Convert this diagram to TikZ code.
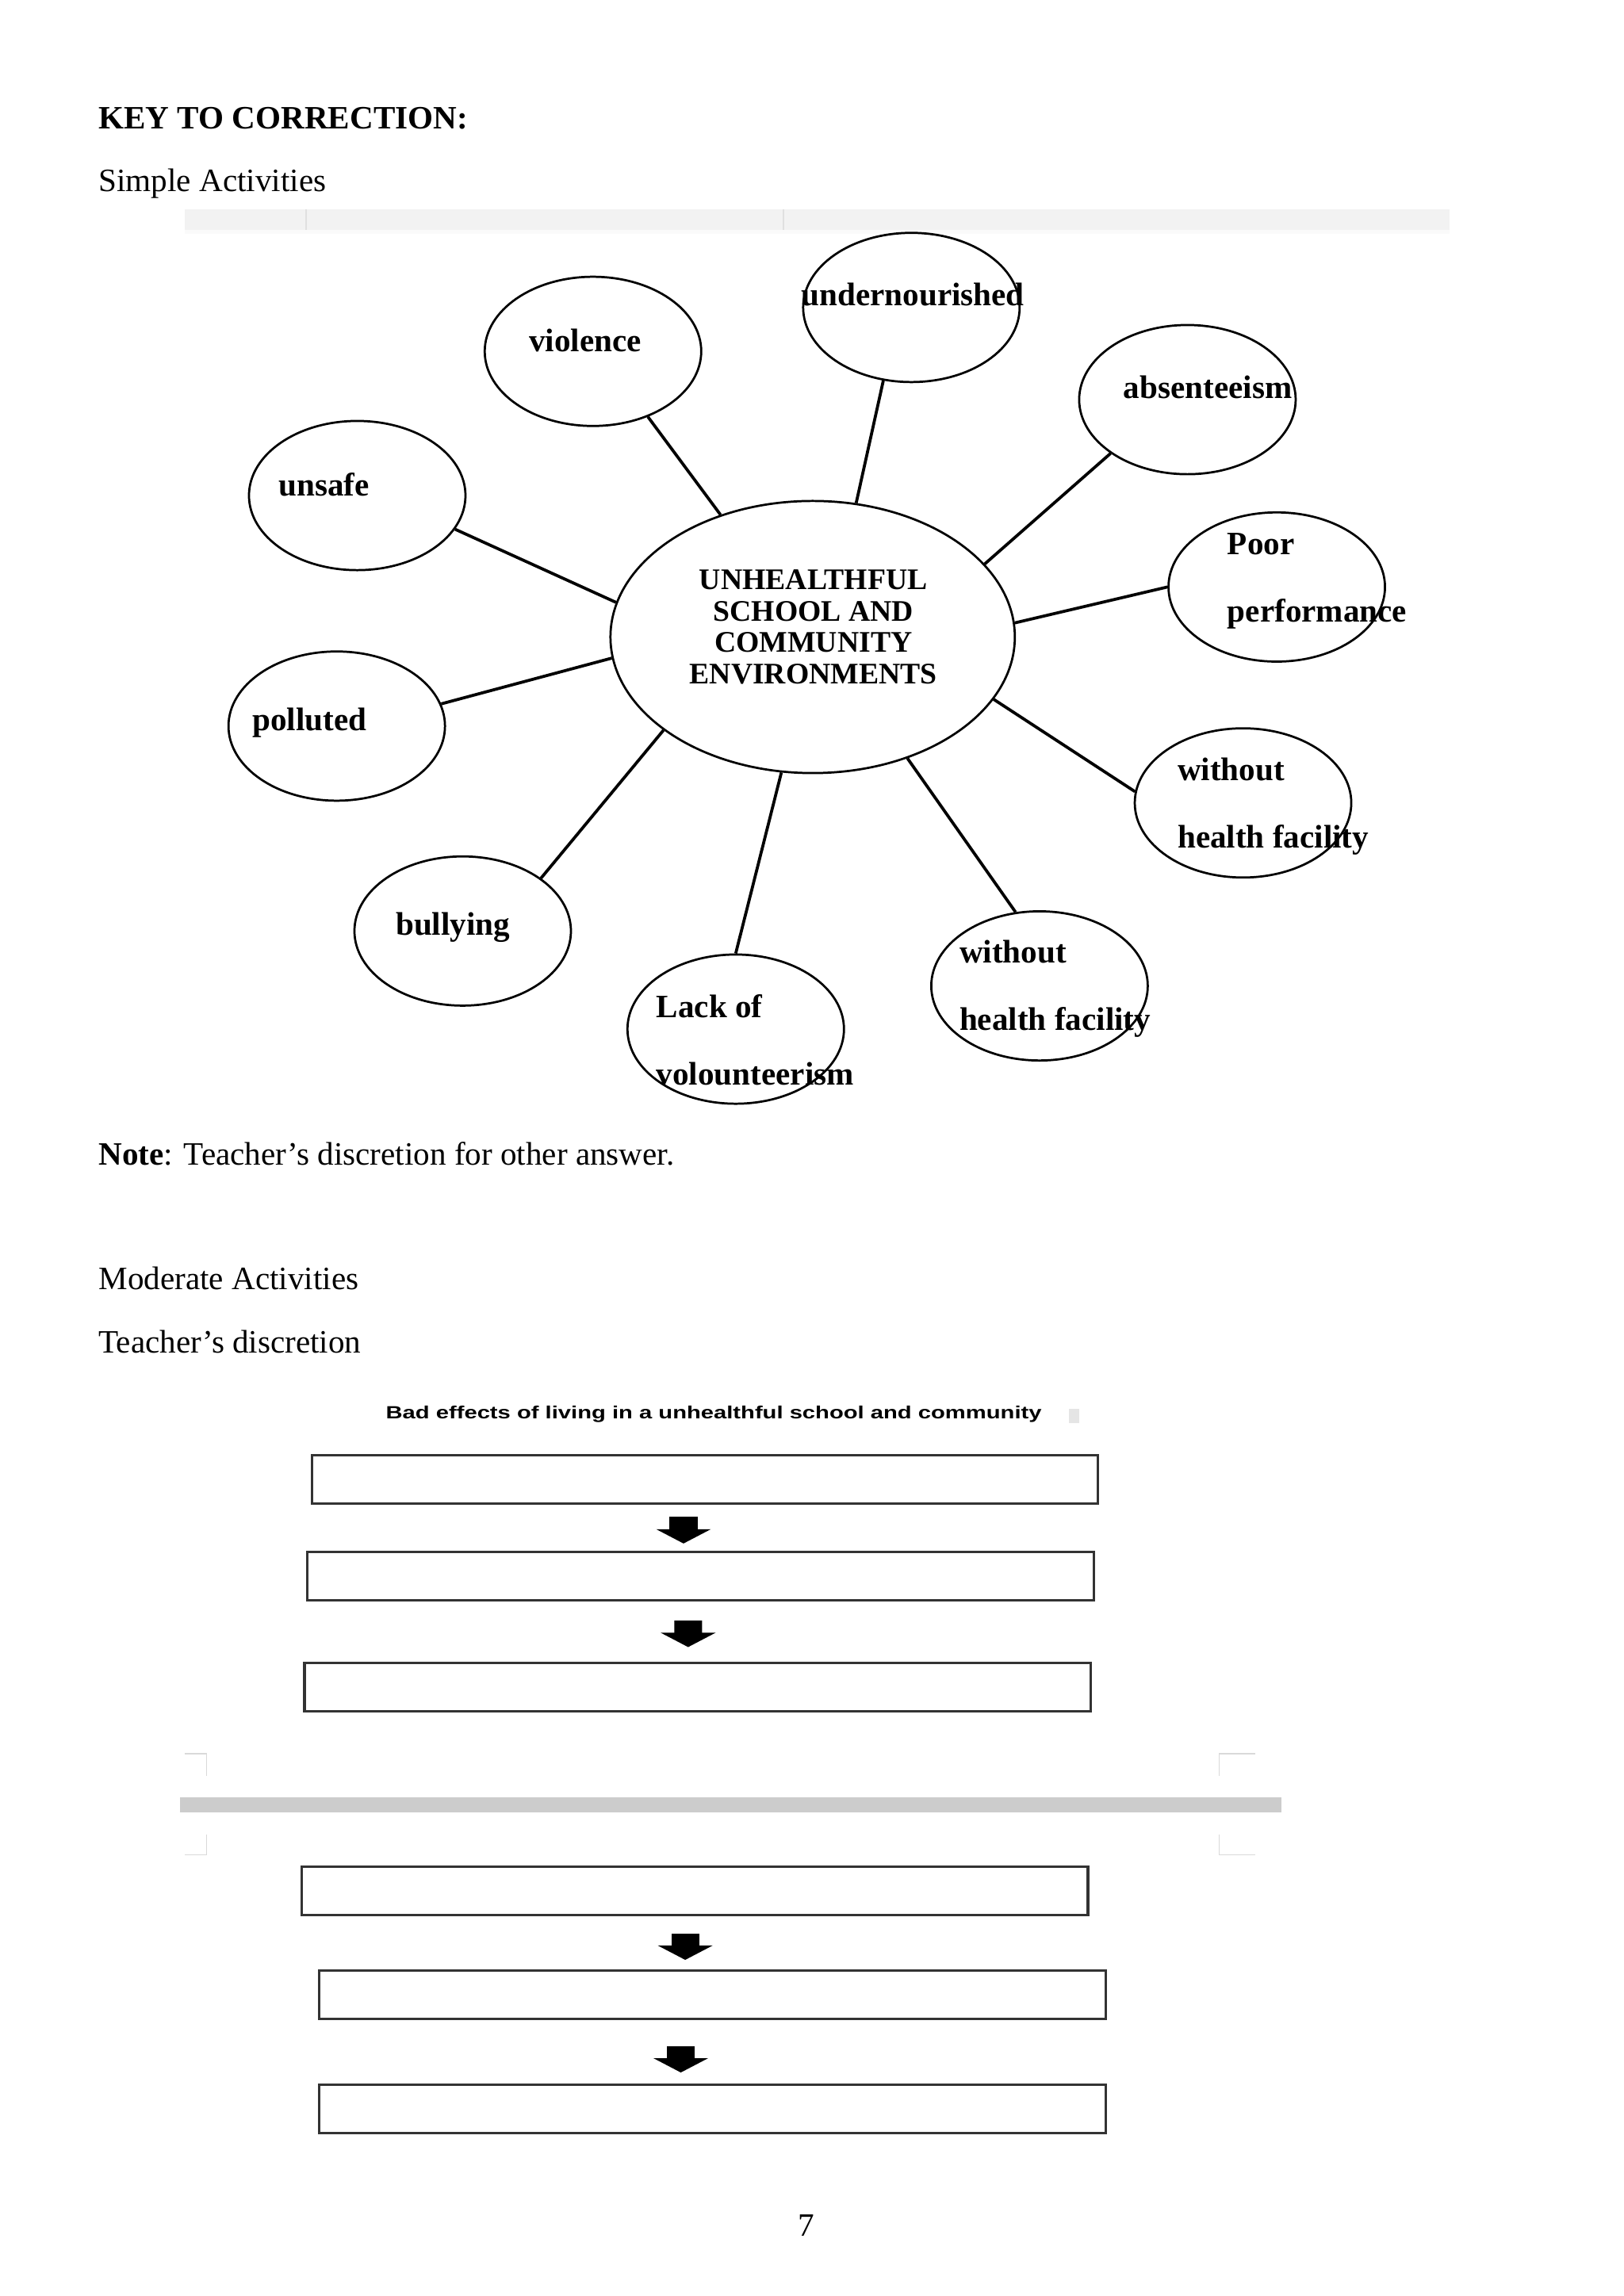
\documentclass[tikz,border=0pt]{standalone}
\usepackage{fontspec}
\setmainfont{Liberation Serif}
\setsansfont{Liberation Sans}
\usepackage{graphicx}
\usetikzlibrary{shapes.geometric,arrows.meta}

\begin{document}
\begin{tikzpicture}[
    bubble/.style={ellipse,draw,line width=0.8pt,minimum width=2.8cm,minimum height=1.93cm,inner sep=0pt},
    hubshape/.style={bubble,minimum width=5.23cm,minimum height=3.52cm},
    lbl/.style={anchor=base west,inner sep=0pt,font=\bfseries\fontsize{12}{14}\selectfont},
    body/.style={anchor=base west,inner sep=0pt,font=\fontsize{12}{14}\selectfont},
    spoke/.style={line width=1.1pt},
    blank/.style={draw=black!80,line width=0.9pt,minimum width=10.17cm,minimum height=0.625cm,inner sep=0pt},
    down/.style={line width=0.36cm,-{Triangle[width=0.7cm,length=0.185cm]}},
    cropline/.style={draw=black!15,line width=0.4pt}
  ]
    \fill[white] (0,0) rectangle (21,-29.7);
    \useasboundingbox (0,0) rectangle (21,-29.7);
    %% Page text
    \node[body,font=\bfseries\fontsize{12}{14}\selectfont] (key) at (1.27,-1.67) {KEY TO CORRECTION:};
    \node[body] (simple) at (1.27,-2.48) {Simple Activities};
    \node[body] (note) at (1.27,-15.07) {\textbf{Note}: Teacher’s discretion for other answer.};
    \node[body] (moderate) at (1.27,-16.68) {Moderate Activities};
    \node[body] (discr) at (1.27,-17.50) {Teacher’s discretion};
    \node[body,anchor=base] (page) at (10.43,-28.93) {7};
    %% Toolbar strip above the map
    \fill[black!5] (2.386,-2.708) rectangle (18.746,-2.973);
    \fill[black!2] (2.386,-2.973) rectangle (18.746,-3.03);
    \draw[black!12] (3.958,-2.708) -- (3.958,-2.973);
    \draw[black!12] (10.134,-2.708) -- (10.134,-2.973);
    %% Draw the nodes
    \node[hubshape] (hub) at (10.51,-8.24) {};
    \node[bubble] (violence) at (7.669,-4.545) {};
    \node[bubble] (under) at (11.787,-3.977) {};
    \node[bubble] (absent) at (15.357,-5.169) {};
    \node[bubble] (unsafe) at (4.620,-6.410) {};
    \node[bubble] (poor) at (16.512,-7.593) {};
    \node[bubble] (polluted) at (4.355,-9.392) {};
    \node[bubble] (nofacR) at (16.076,-10.386) {};
    \node[bubble] (bully) at (5.984,-12.043) {};
    \node[bubble] (volun) at (9.515,-13.312) {};
    \node[bubble] (nofacB) at (13.444,-12.753) {};
    %% Draw the labels
    \node[align=center,inner sep=0pt,font=\bfseries\fontsize{11}{11.6}\selectfont] (hubtxt) at (10.52,-8.11)
      {UNHEALTHFUL\\SCHOOL AND\\COMMUNITY\\ENVIRONMENTS};
    \node[lbl] (violencetxt) at (6.836,-4.545) {violence};
    \node[lbl] (undertxt) at (10.358,-3.958) {undernourished};
    \node[lbl] (absenttxt) at (14.524,-5.151) {absenteeism};
    \node[lbl] (unsafetxt) at (3.598,-6.419) {unsafe};
    \node[lbl] (poortxt) at (15.868,-7.177) {Poor};
    \node[lbl] (perftxt) at (15.868,-8.048) {performance};
    \node[lbl] (pollutedtxt) at (3.257,-9.449) {polluted};
    \node[lbl] (nofacRa) at (15.224,-10.093) {without};
    \node[lbl] (nofacRb) at (15.224,-10.964) {health facility};
    \node[lbl] (bullytxt) at (5.113,-12.100) {bullying};
    \node[lbl] (volunA) at (8.483,-13.160) {Lack of};
    \node[lbl] (volunB) at (8.483,-14.031) {volounteerism};
    \node[lbl] (nofacBa) at (12.403,-12.460) {without};
    \node[lbl] (nofacBb) at (12.403,-13.331) {health facility};
    %% Draw the edges
    \begin{scope}[every path/.style={spoke}]
      \draw (hub.127) -- (violence.310);
      \draw (hub.72) -- (under.249);
      \draw (hub.23) -- (absent.215);
      \draw (hub.170) -- (unsafe.341);
      \draw (hub.4) -- (poor.180);
      \draw (hub.186) -- (polluted.12);
      \draw (hub.341) -- (nofacR.174);
      \draw (hub.212) -- (bully.34);
      \draw (hub.257) -- (volun.90);
      \draw (hub.308) -- (nofacB.108);
    \end{scope}
    %% Flow chart
    \node[inner sep=0pt,font=\sffamily\bfseries] (flowtitle) at (9.231,-18.29)
      {\scalebox{1.31}[1]{\fontsize{6.5}{7}\selectfont Bad effects of living in a unhealthful school and community}};
    \fill[black!10] (13.82,-18.22) rectangle (13.96,-18.41);
    \node[blank] (B1) at (9.117,-19.135) {};
    \node[blank] (B2) at (9.061,-20.384) {};
    \node[blank] (B3) at (9.023,-21.824) {};
    \node[blank] (B4) at (8.985,-24.456) {};
    \node[blank] (B5) at (9.212,-25.800) {};
    \node[blank] (B6) at (9.212,-27.277) {};
    \draw[down,shorten <=0.16cm,shorten >=0.09cm] ([xshift=-0.277cm]B1.south) -- ([xshift=-0.221cm]B2.north);
    \draw[down,shorten <=0.25cm,shorten >=0.19cm] ([xshift=-0.161cm]B2.south) -- ([xshift=-0.123cm]B3.north);
    \draw[down,shorten <=0.23cm,shorten >=0.12cm] ([xshift=-0.123cm]B4.south) -- ([xshift=-0.350cm]B5.north);
    \draw[down,shorten <=0.34cm,shorten >=0.14cm] ([xshift=-0.407cm]B5.south) -- ([xshift=-0.407cm]B6.north);
    %% Page break strip
    \fill[black!20] (2.329,-23.253) rectangle (16.569,-23.442);
    \draw[cropline] (2.386,-22.685) -- (2.670,-22.685) -- (2.670,-22.969);
    \draw[cropline] (16.23,-22.685) -- (15.77,-22.685) -- (15.77,-22.969);
    \draw[cropline] (2.670,-23.726) -- (2.670,-23.992) -- (2.386,-23.992);
    \draw[cropline] (15.77,-23.726) -- (15.77,-23.992) -- (16.23,-23.992);
  \end{tikzpicture}
\end{document}
